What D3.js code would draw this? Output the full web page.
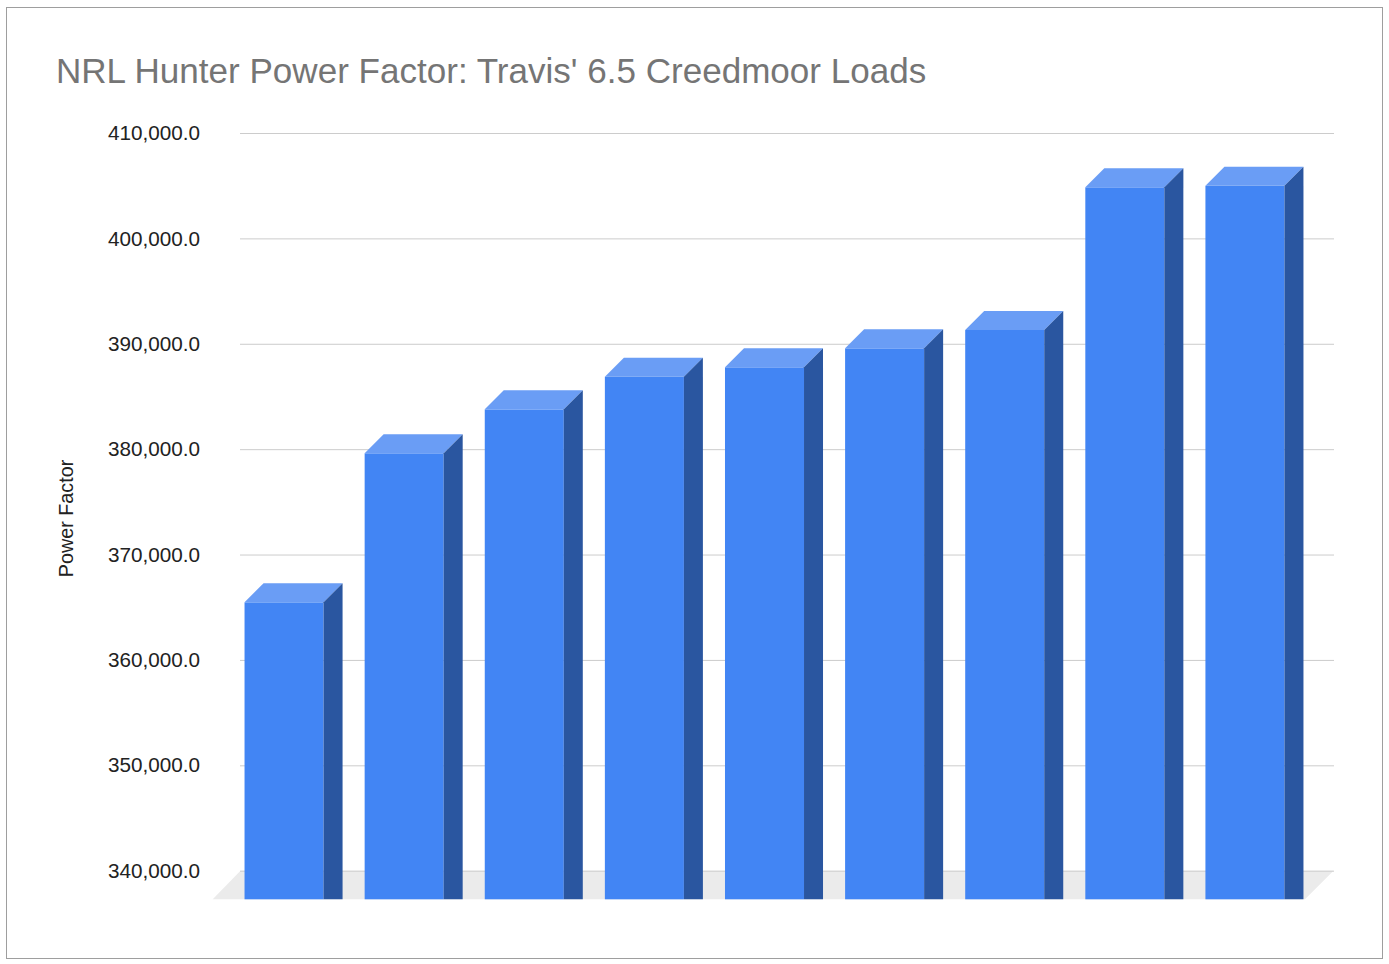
<!DOCTYPE html>
<html lang="en">
<head>
  <meta charset="UTF-8" />
  <title>NRL Hunter Power Factor</title>
  <script src="https://cdn.jsdelivr.net/npm/d3@7"></script>
  <style>
    body {
      margin: 0;
      background-color: white;
      font-family: "Liberation Sans", Arial, sans-serif;
    }

    .grid line {
      stroke: #cccccc;
      stroke-width: 1px;
    }

    .y-labels text {
      font-size: 20.7px;
      fill: #222222;
    }
  </style>
</head>
<body>
  <div id="chart"></div>

  <script>
    // loads, left to right (no category labels are shown on the chart)
    const loads = ["Load 1", "Load 2", "Load 3", "Load 4", "Load 5", "Load 6", "Load 7", "Load 8", "Load 9"];
    const powerFactor = [368180, 382320, 386490, 389590, 390480, 392280, 394020, 407560, 407710];
    const yTicks = [340000, 350000, 360000, 370000, 380000, 390000, 400000, 410000];

    const width = 1389;
    const height = 964;

    // back plane of the plot, the gridlines live here
    const plotLeft = 240;
    const plotRight = 1334;
    const plotTop = 133;
    const plotBottom = 870.7;

    const floorDepth = 28.6;   // how far the floor comes forward
    const barDepth = 19;       // bars are shallower than the floor

    const colors = {
      front: "#4285f4",
      top: "#6a9df5",
      side: "#2a56a0",
      floor: "#ebebeb"
    };

    const svg = d3.select("#chart")
      .append("svg")
      .attr("width", width)
      .attr("height", height);

    // outer frame
    svg.append("rect")
      .attr("x", 6.5)
      .attr("y", 7.5)
      .attr("width", 1376)
      .attr("height", 951)
      .attr("fill", "white")
      .attr("stroke", "#9e9e9e")
      .attr("stroke-width", 1);

    svg.append("text")
      .attr("x", 56)
      .attr("y", 83)
      .attr("font-size", "35.05px")
      .attr("fill", "#757575")
      .text("NRL Hunter Power Factor: Travis' 6.5 Creedmoor Loads");

    const yScale = d3.scaleLinear()
      .domain([340000, 410000])
      .range([plotBottom, plotTop]);

    // front plane x positions
    const xScale = d3.scaleBand()
      .domain(loads)
      .range([224, 1305])
      .paddingInner(0.342)
      .paddingOuter(0.171);

    // floor
    const floorPts = [
      [212.7, plotBottom + floorDepth],
      [1305, plotBottom + floorDepth],
      [plotRight - 0.5, plotBottom],
      [plotLeft + 0.5, plotBottom]
    ];
    svg.append("polygon")
      .attr("points", floorPts.map(p => p.join(",")).join(" "))
      .attr("fill", colors.floor);

    // gridlines
    svg.append("g")
      .attr("class", "grid")
      .attr("transform", `translate(${plotLeft}, 0)`)
      .call(d3.axisLeft(yScale).tickValues(yTicks).tickSize(-(plotRight - plotLeft)).tickFormat(""))
      .call(g => g.select(".domain").remove());

    // tick labels
    svg.append("g")
      .attr("class", "y-labels")
      .attr("transform", "translate(200, 0)")
      .call(d3.axisLeft(yScale).tickValues(yTicks).tickSize(0).tickPadding(0).tickFormat(d3.format(",.1f")))
      .call(g => g.select(".domain").remove())
      .call(g => g.selectAll("text").attr("font-family", "'Liberation Sans', Arial, sans-serif").attr("font-size", null));

    svg.append("text")
      .attr("transform", "translate(72.5, 518.5) rotate(-90)")
      .attr("text-anchor", "middle")
      .attr("font-size", "19.8px")
      .attr("fill", "#222222")
      .text("Power Factor");

    // 3d bars
    const frontBase = plotBottom + floorDepth;
    const bw = xScale.bandwidth();

    const bars = svg.append("g")
      .selectAll("g")
      .data(powerFactor)
      .join("g");

    bars.append("rect")
      .attr("x", (d, i) => xScale(loads[i]))
      .attr("y", d => yScale(d) + floorDepth)
      .attr("width", bw)
      .attr("height", d => frontBase - yScale(d) - floorDepth)
      .attr("fill", colors.front);

    bars.append("polygon")
      .attr("points", (d, i) => {
        const x = xScale(loads[i]);
        const y = yScale(d) + floorDepth;
        return [[x, y], [x + bw, y], [x + bw + barDepth, y - barDepth], [x + barDepth, y - barDepth]]
          .map(p => p.join(",")).join(" ");
      })
      .attr("fill", colors.top);

    bars.append("polygon")
      .attr("points", (d, i) => {
        const x = xScale(loads[i]) + bw;
        const y = yScale(d) + floorDepth;
        return [[x, y], [x + barDepth, y - barDepth], [x + barDepth, frontBase], [x, frontBase]]
          .map(p => p.join(",")).join(" ");
      })
      .attr("fill", colors.side);
  </script>
</body>
</html>
